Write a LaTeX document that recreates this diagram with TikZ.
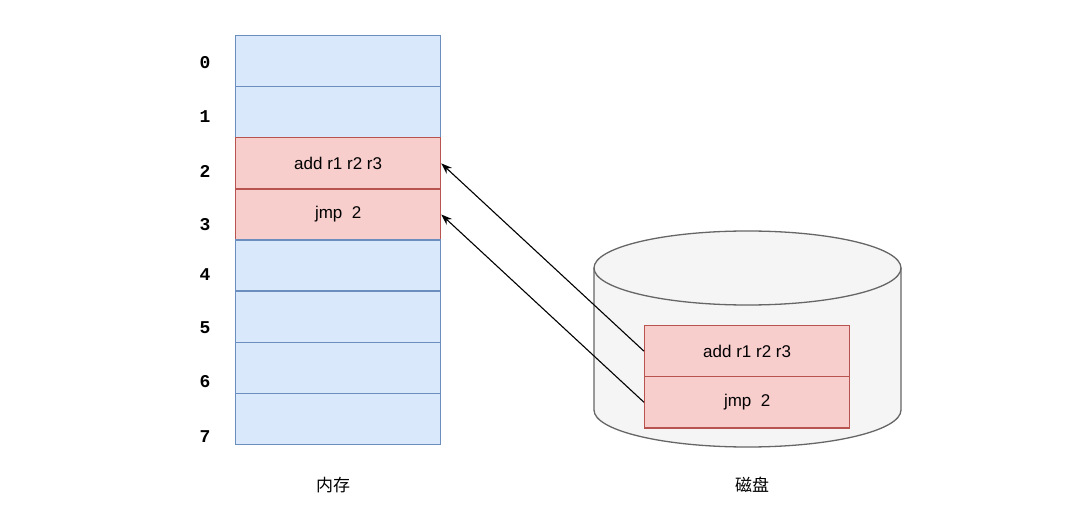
\documentclass[tikz,border=0pt]{standalone}
\usepackage{fontspec}
\setmainfont{Liberation Sans}
\newfontfamily\cjk{Noto Sans CJK SC}
\newfontfamily\mono{Liberation Mono}
\usetikzlibrary{arrows.meta}
\definecolor{bfill}{HTML}{DAE8FC}\definecolor{bline}{HTML}{6C8EBF}
\definecolor{rfill}{HTML}{F8CECC}\definecolor{rline}{HTML}{B85450}
\definecolor{gfill}{HTML}{F5F5F5}\definecolor{gline}{HTML}{666666}
\begin{document}
\begin{tikzpicture}[x=1pt,y=-1pt,
  cell/.style={draw=bline,fill=bfill,line width=1.3pt,minimum width=205pt,minimum height=51.1pt,inner sep=0pt,anchor=north west},
  rcell/.style={cell,draw=rline,fill=rfill,font=\fontsize{17}{20}\selectfont},
  num/.style={font=\mono\bfseries\fontsize{18}{20}\selectfont},
  lab/.style={font=\cjk\fontsize{17}{20}\selectfont},
  arr/.style={-{Stealth[length=11pt,width=8pt]},line width=1.1pt}]
\useasboundingbox (0,0) rectangle (1080,505);
\node[cell] (m0) at (235,35) {};
\node[cell] (m1) at (235,86.1) {};
\node[rcell] (m2) at (235,137.2) {add r1 r2 r3};
\node[rcell] (m3) at (235,188.3) {jmp\ \ 2};
\node[cell] (m4) at (235,239.4) {};
\node[cell] (m5) at (235,290.5) {};
\node[cell] (m6) at (235,341.6) {};
\node[cell] (m7) at (235,392.7) {};
\node[num] (n0) at (205,63) {0};
\node[num] (n1) at (205,117) {1};
\node[num] (n2) at (205,171) {2};
\node[num] (n3) at (205,225) {3};
\node[num] (n4) at (205,275) {4};
\node[num] (n5) at (205,328) {5};
\node[num] (n6) at (205,382) {6};
\node[num] (n7) at (205,437) {7};
% cylinder
\draw[gline,fill=gfill,line width=1.3pt] (594,268) -- (594,410) arc[start angle=180,end angle=0,x radius=153.5,y radius=37] -- (901,268) arc[start angle=0,end angle=-180,x radius=153.5,y radius=37];
\draw[gline,line width=1.3pt] (594,268) arc[start angle=180,end angle=0,x radius=153.5,y radius=37];
\node[rcell] (d0) at (644,325) {add r1 r2 r3};
\node[rcell] (d1) at (644,376.1) {jmp\ \ 2};
\draw[arr] (d0.west) -- (m2.east);
\draw[arr] (d1.west) -- (m3.east);
\node[lab] (t1) at (333,485) {内存};
\node[lab] (t2) at (752,485) {磁盘};
\end{tikzpicture}
\end{document}
